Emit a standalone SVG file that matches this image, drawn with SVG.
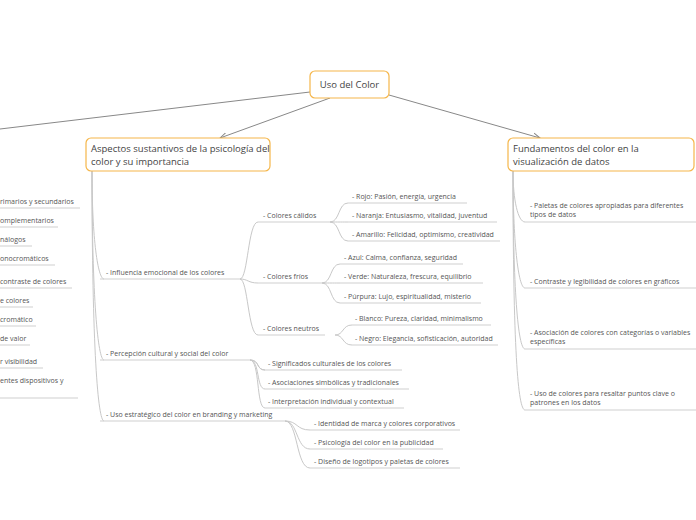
<svg xmlns="http://www.w3.org/2000/svg" width="696" height="520" viewBox="0 0 696 520">
<style>
text{font-family:"Open Sans","Noto Sans",sans-serif;fill:#555}
.l{font-size:7px}
.m{font-size:9.5px;fill:#444}
.box{fill:#fff;stroke:#f5b64a;stroke-width:1.2}
.c{fill:none;stroke:#c8c8c8;stroke-width:1}
.u{fill:none;stroke:#cfcfcf;stroke-width:1}
.a{fill:none;stroke:#888;stroke-width:1}
</style>
<defs><marker id="ar" markerWidth="8" markerHeight="8" refX="7" refY="4" orient="auto" markerUnits="userSpaceOnUse"><path d="M0,1 L7,4 L0,7" fill="none" stroke="#888"/></marker></defs>
<g id="connectors">
<path class="a" d="M310,92 L0,129"/>
<path class="a" d="M330,98 L220,138" marker-end="url(#ar)"/>
<path class="a" d="M389,95 L540,138" marker-end="url(#ar)"/>
<path class="c" d="M92,171 C92,240 98,279 104,279 M92,171 C92,300 98,360 104,360 M92,171 C92,350 98,421 104,421"/>
<path class="u" d="M100,279 H240 M100,360 H250 M100,421 H285"/>
<path class="c" d="M240,279 C248,279 248,222 258,222 M240,279 C248,279 248,283 258,283 M240,279 C248,279 248,335 258,335"/>
<path class="u" d="M258,222 H330 M258,283 H322 M258,335 H325"/>
<path class="c" d="M330,222 C340,222 338,203 348,203 M330,222 C340,222 338,222 348,222 M330,222 C340,222 338,241 348,241"/>
<path class="u" d="M348,203 H467 M348,222 H497 M348,241 H500"/>
<path class="c" d="M322,283 C332,283 330,264 340,264 M322,283 C332,283 330,283 340,283 M322,283 C332,283 330,303 340,303"/>
<path class="u" d="M340,264 H463 M340,283 H483 M340,303 H481"/>
<path class="c" d="M335,335 C344,335 342,325 352,325 M335,335 C344,335 342,345 352,345"/>
<path class="u" d="M352,325 H491 M352,345 H498"/>
<path class="c" d="M250,360 C260,360 256,370 265,370 M250,360 C260,360 256,389 265,389 M250,360 C260,360 256,408 265,408 M250,360 C260,360 256,370 265,370"/>
<path class="u" d="M265,370 H402 M265,389 H409 M265,408 H404"/>
<path class="c" d="M285,421 C298,421 296,430 310,430 M285,421 C298,421 296,449 310,449 M285,421 C298,421 296,468 310,468"/>
<path class="u" d="M310,430 H460 M310,449 H443 M310,468 H460"/>
<path class="c" d="M513,171 C513,200 518,222 525,222 M513,171 C513,240 518,288 525,288 M513,171 C513,290 518,349 525,349 M513,171 C513,350 518,410 525,410"/>
<path class="u" d="M525,222 H696 M525,288 H696 M525,349 H696 M525,410 H696"/>
<path class="u" d="M0,208 H80 M0,227 H58 M0,246 H32 M0,265 H55 M0,288 H72 M0,307 H33 M0,326 H36 M0,345 H30 M0,368 H43 M0,398 H78"/>
</g>
<g id="root"><rect class="box" x="310" y="71" width="79" height="27" rx="5"/><text class="m" x="349.5" y="87.5" text-anchor="middle">Uso del Color</text></g>
<g id="aspectos"><rect class="box" x="86" y="138" width="184" height="33" rx="5"/><text class="m" x="91" y="152">Aspectos sustantivos de la psicología del</text><text class="m" x="91" y="165">color y su importancia</text></g>
<g id="fundamentos"><rect class="box" x="508" y="138" width="186" height="33" rx="5"/><text class="m" x="513" y="152">Fundamentos del color en la</text><text class="m" x="513" y="165">visualización de datos</text></g>
<g id="influencia"><text class="l" x="106" y="275">- Influencia emocional de los colores</text></g>
<g id="calidos"><text class="l" x="263" y="218">- Colores cálidos</text></g>
<g id="frios"><text class="l" x="263" y="279">- Colores fríos</text></g>
<g id="neutros"><text class="l" x="263" y="331">- Colores neutros</text></g>
<g id="c1"><text class="l" x="352" y="199">- Rojo: Pasión, energía, urgencia</text></g>
<g id="c2"><text class="l" x="352" y="218">- Naranja: Entusiasmo, vitalidad, juventud</text></g>
<g id="c3"><text class="l" x="352" y="237">- Amarillo: Felicidad, optimismo, creatividad</text></g>
<g id="f1"><text class="l" x="344" y="260">- Azul: Calma, confianza, seguridad</text></g>
<g id="f2"><text class="l" x="344" y="279">- Verde: Naturaleza, frescura, equilibrio</text></g>
<g id="f3"><text class="l" x="344" y="299">- Púrpura: Lujo, espiritualidad, misterio</text></g>
<g id="n1"><text class="l" x="355" y="321">- Blanco: Pureza, claridad, minimalismo</text></g>
<g id="n2"><text class="l" x="355" y="341">- Negro: Elegancia, sofisticación, autoridad</text></g>
<g id="percepcion"><text class="l" x="106" y="356">- Percepción cultural y social del color</text></g>
<g id="p1"><text class="l" x="268" y="366">- Significados culturales de los colores</text></g>
<g id="p2"><text class="l" x="268" y="385">- Asociaciones simbólicas y tradicionales</text></g>
<g id="p3"><text class="l" x="268" y="404">- Interpretación individual y contextual</text></g>
<g id="branding"><text class="l" x="106" y="417">- Uso estratégico del color en branding y marketing</text></g>
<g id="b1"><text class="l" x="314" y="426">- Identidad de marca y colores corporativos</text></g>
<g id="b2"><text class="l" x="314" y="445">- Psicología del color en la publicidad</text></g>
<g id="b3"><text class="l" x="314" y="464">- Diseño de logotipos y paletas de colores</text></g>
<g id="d1"><text class="l" x="530" y="208">- Paletas de colores apropiadas para diferentes</text><text class="l" x="530" y="217">tipos de datos</text></g>
<g id="d2"><text class="l" x="530" y="284">- Contraste y legibilidad de colores en gráficos</text></g>
<g id="d3"><text class="l" x="530" y="335">- Asociación de colores con categorías o variables</text><text class="l" x="530" y="344">específicas</text></g>
<g id="d4"><text class="l" x="530" y="396">- Uso de colores para resaltar puntos clave o</text><text class="l" x="530" y="405">patrones en los datos</text></g>
<g id="left">
<text class="l" x="0" y="204">rimarios y secundarios</text>
<text class="l" x="0" y="223">omplementarios</text>
<text class="l" x="0" y="242">nálogos</text>
<text class="l" x="0" y="261">onocromáticos</text>
<text class="l" x="0" y="284">contraste de colores</text>
<text class="l" x="0" y="303">e colores</text>
<text class="l" x="0" y="322">cromático</text>
<text class="l" x="0" y="341">de valor</text>
<text class="l" x="0" y="364">r visibilidad</text>
<text class="l" x="0" y="383">entes dispositivos y</text>
</g>
</svg>
